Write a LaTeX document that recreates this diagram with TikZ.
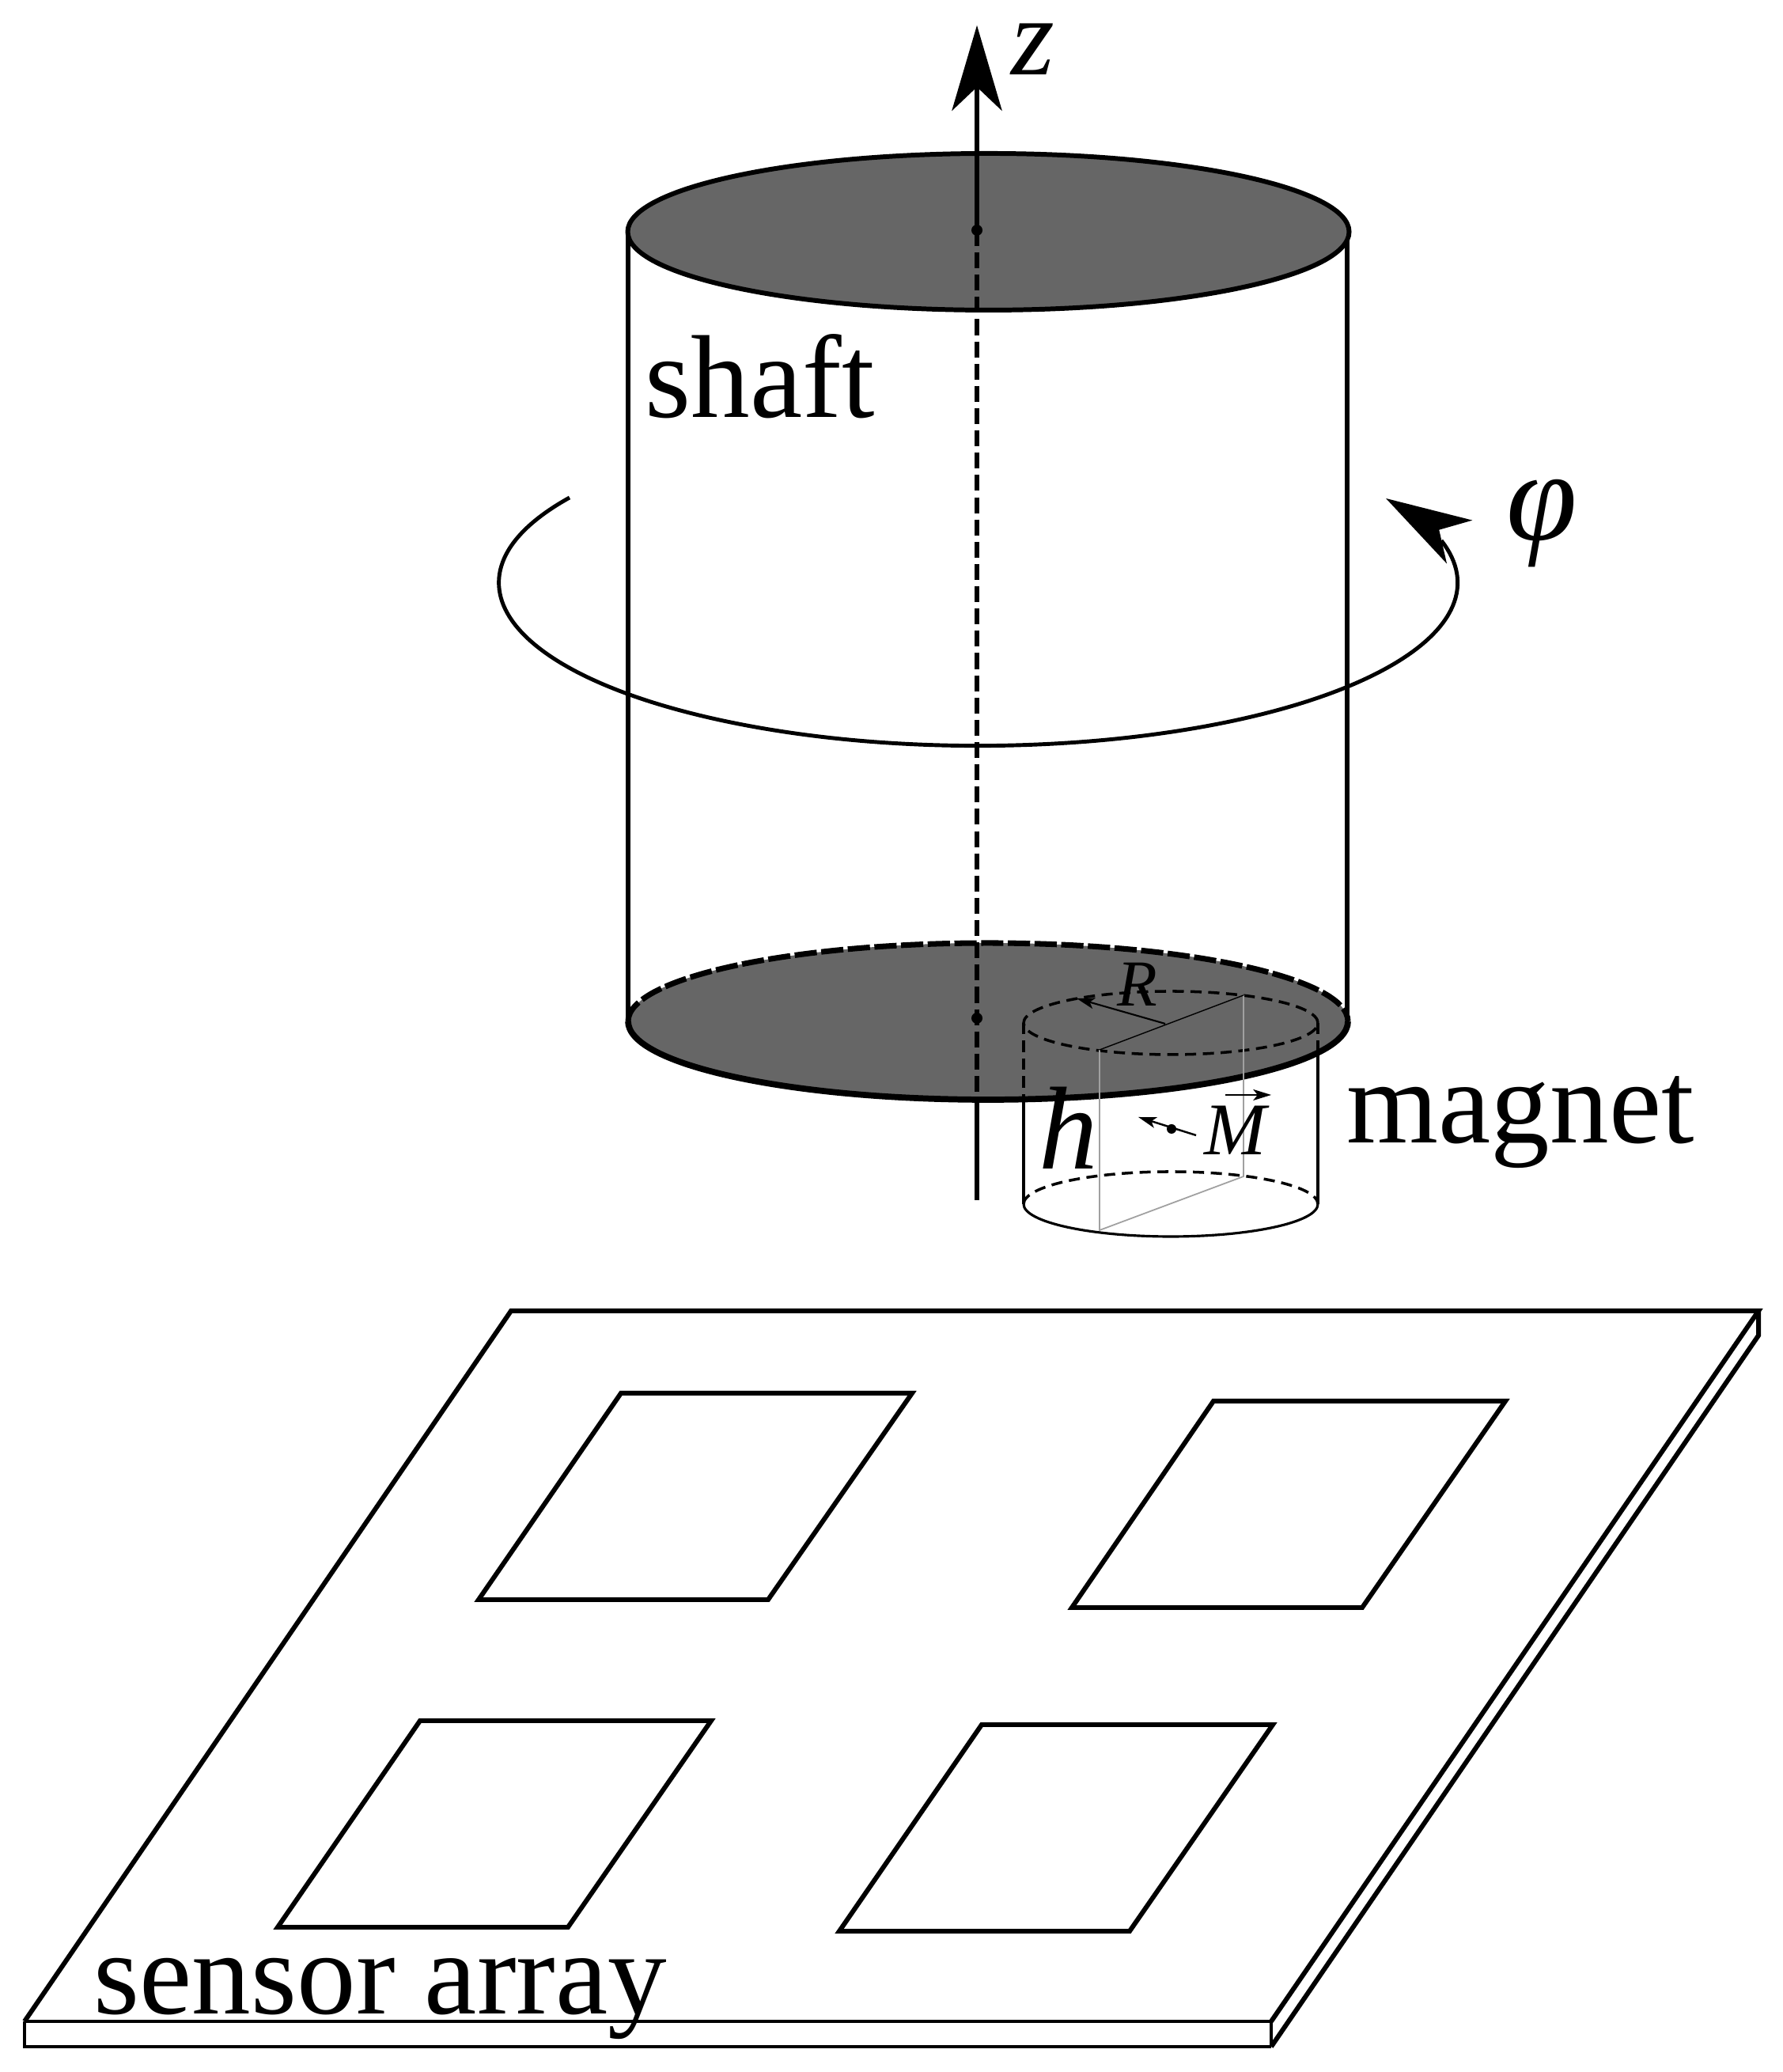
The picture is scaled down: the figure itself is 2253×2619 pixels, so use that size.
\documentclass[tikz,border=0pt]{standalone}
\usepackage{xcolor}
\usepackage{fontspec}
\setmainfont{Liberation Serif}
\usetikzlibrary{arrows.meta}
\definecolor{shaftend}{RGB}{102,102,102}
\definecolor{guide}{RGB}{160,160,160}
\definecolor{radius}{RGB}{70,70,70}
\tikzstyle{big label}=[font=\fontsize{42.4}{50}\selectfont, inner sep=0pt, anchor=base west]
\tikzstyle{axis label}=[font=\fontsize{40}{48}\selectfont\itshape, inner sep=0pt, anchor=base west]
\tikzstyle{angle label}=[font=\fontsize{46}{54}\selectfont\itshape, inner sep=0pt, anchor=base west]
\tikzstyle{small label}=[font=\fontsize{26.7}{32}\selectfont\itshape, inner sep=0pt, anchor=base west]
\tikzstyle{tiny label}=[font=\fontsize{23.6}{28}\selectfont\itshape, inner sep=0pt, anchor=base west]
\tikzstyle{thick line}=[line width=1.7pt, line join=miter]
\tikzstyle{thin line}=[line width=0.9pt]
\tikzstyle{axis dash}=[line width=1.7pt, dash pattern=on 5.7pt off 2.3pt]
\tikzstyle{rim dash}=[line width=2pt, dash pattern=on 8pt off 1.6pt]
\tikzstyle{magnet dash}=[line width=1pt, dash pattern=on 4pt off 2.4pt]
\tikzstyle{big tip}=[-{Stealth[length=30.7pt,width=18pt,inset=8.5pt]}]
\tikzstyle{small tip}=[-{Stealth[length=6.5pt,width=4pt,inset=1.6pt]}]

\begin{document}
\begin{tikzpicture}[x=0.01cm,y=0.01cm]
  \useasboundingbox (0,0) rectangle (2253,2619);

  %% Sensor plate
  \draw[thick line] (31,64) -- (646,962) -- (2223,962) -- (1607,64);
  \draw[thin line] (31,64) -- (1607,64);
  \draw[thin line] (1607,64) -- (1607,32);
  \draw[thin line] (31,64) -- (31,32) -- (1607,32);
  \draw[thick line] (1607,32) -- (2223,931) -- (2223,962);

  \draw[thick line] (785,858) -- (1153,858) -- (971,597) -- (605,597) -- cycle;
  \draw[thick line] (1534,848) -- (1903,848) -- (1722,587) -- (1355,587) -- cycle;
  \draw[thick line] (531,444) -- (899,444) -- (718,183) -- (351,183) -- cycle;
  \draw[thick line] (1241,439) -- (1609,439) -- (1428,178) -- (1061,178) -- cycle;

  %% Shaft
  \draw[thick line] (794,2326) -- (794,1328);
  \draw[thick line] (1703,2326) -- (1703,1328);
  \fill[shaftend] (1249,1328) ellipse (455 and 99);
  \draw[line width=2.2pt] (794,1328) arc (180:360:455 and 99);
  \draw[rim dash] (794,1328) arc (180:0:455 and 99);
  \draw[thick line,fill=shaftend] (1249.5,2326) ellipse (456 and 99);

  %% Axis
  \coordinate (top dot) at (1235,2328);
  \coordinate (low dot) at (1235,1332);
  \coordinate (axis tip) at (1235,2587);
  \coordinate (axis rim) at (1235,1229);
  \coordinate (axis end) at (1235,1102);
  \draw[big tip,line width=1.7pt] (top dot) -- (axis tip);
  \draw[axis dash] (top dot) -- (axis rim);
  \draw[line width=1.7pt] (axis rim) -- (axis end);
  \fill (top dot) circle (7);
  \fill (low dot) circle (7);

  %% Rotation
  \coordinate (rot notch) at (1818,1950);
  \coordinate (rot tip) at (1752,1989);
  \draw[line width=1.4pt] (720,1990) arc (148.5:375:606 and 206);
  \draw[big tip,line width=1.4pt] (rot notch) -- (rot tip);

  %% Magnet
  \draw[magnet dash] (1480,1326) ellipse (186 and 40);
  \draw[magnet dash] (1294,1326) -- (1294,1229);
  \draw[thin line] (1294,1229) -- (1294,1097);
  \draw[magnet dash] (1666,1326) -- (1666,1289);
  \draw[thin line] (1666,1289) -- (1666,1097);
  \draw[magnet dash] (1294,1097) arc (180:0:186 and 41);
  \draw[thin line] (1294,1097) arc (180:360:186 and 41);

  \draw[guide,line width=0.5pt] (1390,1292) -- (1390,1064) -- (1572,1132) -- (1572,1361);
  \draw[radius,line width=0.4pt] (1390,1292) -- (1572,1361);
  \draw[small tip,radius,line width=0.6pt] (1473,1325) -- (1361,1357);

  \coordinate (M tail) at (1512,1184);
  \coordinate (M head) at (1439,1207);
  \draw[small tip,radius,line width=0.7pt] (M tail) -- (M head);
  \fill (1481,1192) circle (6);
  \coordinate (vec tail) at (1549,1235);
  \coordinate (vec head) at (1607,1235);
  \draw[small tip,radius,line width=0.5pt] (vec tail) -- (vec head);

  %% Labels
  \draw (1278,2524) node[axis label] (z label) {z};
  \draw (1904,1936) node[angle label] (phi label) {φ};
  \draw (815,2091) node[big label] (shaft label) {shaft};
  \draw (1702,1174) node[big label] (magnet label) {magnet};
  \draw (118,73) node[big label] (array label) {sensor array};
  \draw (1313,1141) node[big label] (h label) {\itshape h};
  \draw (1522,1159) node[small label] (M label) {M};
  \draw (1412,1347) node[tiny label] (R label) {R};
\end{tikzpicture}
\end{document}
